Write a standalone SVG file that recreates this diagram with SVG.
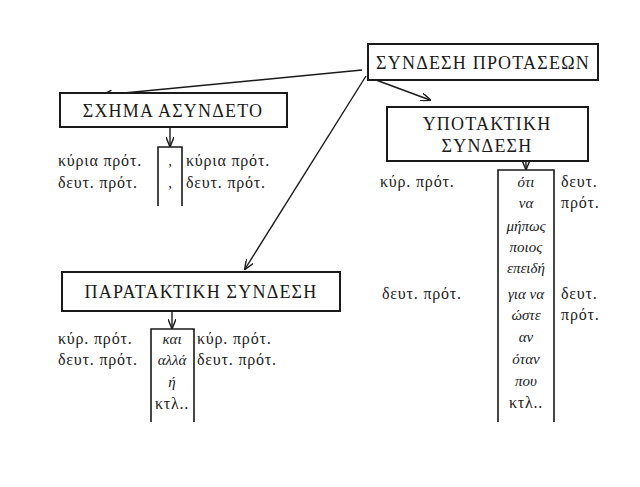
<svg xmlns="http://www.w3.org/2000/svg" width="640" height="487" viewBox="0 0 640 487">
<defs>
<style>
text{font-family:"Liberation Serif","DejaVu Serif",serif;fill:#1a1a1a}
.t{font-size:18px;text-anchor:middle;letter-spacing:1.2px}
.l{font-size:16px;letter-spacing:0.8px}
.i{font-size:15px;font-style:italic;text-anchor:middle}
.b{fill:#fff;stroke:#1a1a1a;stroke-width:2}
.c{fill:none;stroke:#1a1a1a;stroke-width:1.6}
.a{fill:none;stroke:#1a1a1a;stroke-width:1.4;marker-end:url(#m)}
</style>
<marker id="m" markerWidth="10" markerHeight="8" refX="9" refY="4" orient="auto" markerUnits="userSpaceOnUse">
<path d="M0,0 L10,4 L0,8" fill="none" stroke="#1a1a1a" stroke-width="1.4"/>
</marker>
</defs>
<rect width="640" height="487" fill="#fff"/>
<g id="connectors">
<line class="a" x1="362" y1="70" x2="103" y2="95"/>
<line class="a" x1="366" y1="76" x2="245" y2="269"/>
<line class="a" x1="376" y1="80" x2="430" y2="100"/>
<line class="a" x1="170" y1="127" x2="170" y2="146"/>
<line class="a" x1="172" y1="311" x2="172" y2="328"/>
<line class="a" x1="526" y1="161" x2="526" y2="169"/>
</g>
<g id="top"><rect class="b" x="368" y="44" width="230" height="36"/><text class="t" x="483" y="69">ΣΥΝΔΕΣΗ ΠΡΟΤΑΣΕΩΝ</text></g>
<g id="asyndeto"><rect class="b" x="60" y="93" width="227" height="34"/><text class="t" x="173" y="117">ΣΧΗΜΑ ΑΣΥΝΔΕΤΟ</text></g>
<g id="ypotaktiki"><rect class="b" x="387" y="107" width="201" height="54"/><text class="t" x="487" y="130">ΥΠΟΤΑΚΤΙΚΗ</text><text class="t" x="487" y="152">ΣΥΝΔΕΣΗ</text></g>
<g id="parataktiki"><rect class="b" x="62" y="272" width="278" height="39"/><text class="t" x="201" y="298">ΠΑΡΑΤΑΚΤΙΚΗ ΣΥΝΔΕΣΗ</text></g>
<g id="col1">
<path class="c" d="M158,206 V147 H182 V206"/>
<text class="l" x="58" y="166">κύρια πρότ.</text><text class="l" x="58" y="188">δευτ. πρότ.</text>
<text class="i" x="170" y="166">,</text><text class="i" x="170" y="188">,</text>
<text class="l" x="186" y="166">κύρια πρότ.</text><text class="l" x="186" y="188">δευτ. πρότ.</text>
</g>
<g id="col2">
<path class="c" d="M151,422 V329 H194 V422"/>
<text class="l" x="58" y="344">κύρ. πρότ.</text><text class="l" x="58" y="365">δευτ. πρότ.</text>
<text class="l" x="197" y="344">κύρ. πρότ.</text><text class="l" x="197" y="365">δευτ. πρότ.</text>
<text class="i" x="172" y="344">και</text><text class="i" x="172" y="365">αλλά</text><text class="i" x="172" y="387">ή</text><text class="l" x="172" y="409" text-anchor="middle">κτλ..</text>
</g>
<g id="col3">
<path class="c" d="M498,422 V170 H554 V422"/>
<text class="l" x="380" y="187">κύρ. πρότ.</text><text class="l" x="382" y="299">δευτ. πρότ.</text>
<text class="l" x="561" y="187">δευτ.</text><text class="l" x="561" y="208">πρότ.</text>
<text class="l" x="561" y="299">δευτ.</text><text class="l" x="561" y="320">πρότ.</text>
<text class="i" x="526" y="187">ότι</text><text class="i" x="526" y="208">να</text><text class="i" x="526" y="231">μήπως</text><text class="i" x="526" y="252">ποιος</text><text class="i" x="526" y="273">επειδή</text><text class="i" x="526" y="299">για να</text><text class="i" x="526" y="320">ώστε</text><text class="i" x="526" y="342">αν</text><text class="i" x="526" y="364">όταν</text><text class="i" x="526" y="386">που</text><text class="l" x="526" y="408" text-anchor="middle">κτλ..</text>
</g>
</svg>
